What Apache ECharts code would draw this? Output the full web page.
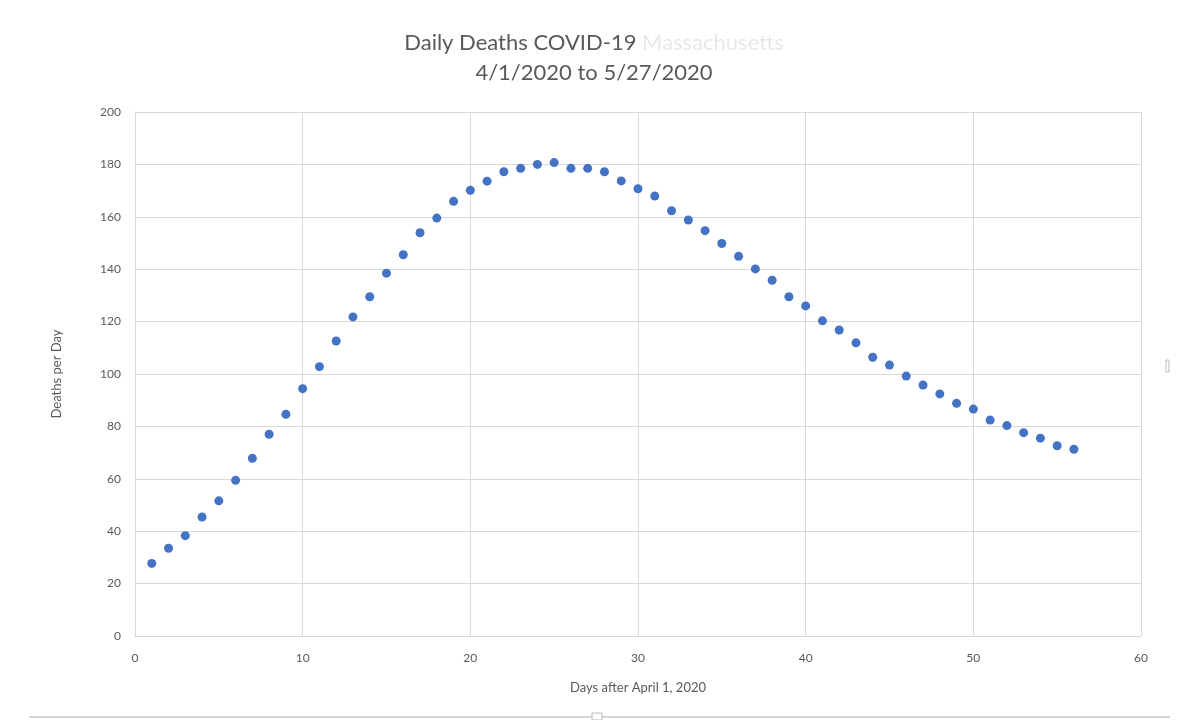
<!DOCTYPE html>
<html>
<head>
<meta charset="utf-8">
<script src="https://cdn.jsdelivr.net/npm/echarts@6/dist/echarts.min.js"></script>
<style>
html,body{margin:0;padding:0;background:#fff;}
#chart{width:1188px;height:720px;}
</style>
</head>
<body>
<div id="chart"></div>
<script>
const titleLine1 = "Daily Deaths COVID-19";
const titleHidden = "Massachusetts";
const titleLine2 = "4/1/2020 to 5/27/2020";
const xAxisName = "Days after April 1, 2020";
const yAxisName = "Deaths per Day";
const days = [1,2,3,4,5,6,7,8,9,10,11,12,13,14,15,16,17,18,19,20,21,22,23,24,25,26,27,28,29,30,31,32,33,34,35,36,37,38,39,40,41,42,43,44,45,46,47,48,49,50,51,52,53,54,55,56];
const deaths = [27.7,33.5,38.3,45.4,51.6,59.4,67.8,77,84.6,94.4,102.8,112.6,121.8,129.5,138.5,145.5,153.9,159.5,165.9,170.1,173.6,177.2,178.5,180,180.7,178.5,178.5,177.2,173.7,170.7,167.9,162.3,158.8,154.7,149.8,144.9,140.1,135.8,129.5,126,120.3,116.8,111.9,106.4,103.4,99.2,95.8,92.4,88.8,86.6,82.4,80.3,77.6,75.5,72.6,71.3];

const chart = echarts.init(document.getElementById('chart'));
const pts = days.map((d, i) => [d, deaths[i]]);
const txt = '#595959';
const font = 'Lato, "Open Sans", sans-serif';
chart.setOption({
  animation: false,
  backgroundColor: '#fff',
  title: {
    text: '{a|' + titleLine1 + ' }{h|' + titleHidden + '}\n{a|' + titleLine2 + '}',
    left: 'center',
    top: 23,
    textStyle: {
      fontWeight: 'normal',
      rich: {
        a: {fontFamily: font, fontSize: 22, fontWeight: 'normal', color: txt, lineHeight: 30},
        h: {fontFamily: font, fontSize: 22, fontWeight: 'normal', color: '#e8e8e8', lineHeight: 30}
      }
    }
  },
  grid: {left: 135, right: 47, top: 112, bottom: 84},
  xAxis: {
    type: 'value', min: 0, max: 60, interval: 10,
    name: xAxisName, nameLocation: 'middle', nameGap: 45,
    nameTextStyle: {fontFamily: font, fontSize: 13, color: txt},
    axisLine: {show: true, lineStyle: {color: '#d9d9d9'}},
    axisTick: {show: false},
    axisLabel: {fontFamily: font, fontSize: 12, color: txt, margin: 16},
    splitLine: {show: true, lineStyle: {color: '#d9d9d9', width: 1}}
  },
  yAxis: {
    type: 'value', min: 0, max: 200, interval: 20,
    name: yAxisName, nameLocation: 'middle', nameGap: 72, nameRotate: 90,
    nameTextStyle: {fontFamily: font, fontSize: 13, color: txt},
    axisLine: {show: true, lineStyle: {color: '#d9d9d9'}},
    axisTick: {show: false},
    axisLabel: {fontFamily: font, fontSize: 12, color: txt, margin: 14},
    splitLine: {show: true, lineStyle: {color: '#d9d9d9', width: 1}}
  },
  series: [{
    type: 'scatter',
    data: pts,
    symbol: 'circle',
    symbolSize: 9,
    itemStyle: {color: '#4472c4', opacity: 1}
  }],
  graphic: [
    {type: 'line', shape: {x1: 29, y1: 717, x2: 1170, y2: 717}, style: {stroke: '#c8c8c8', lineWidth: 1.5}, silent: true},
    {type: 'rect', shape: {x: 592, y: 713, width: 10, height: 7}, style: {fill: '#fff', stroke: '#bbb', lineWidth: 1}, silent: true},
    {type: 'rect', shape: {x: 1166, y: 360, width: 3, height: 12}, style: {fill: '#fff', stroke: '#bbb', lineWidth: 1}, silent: true}
  ]
});
</script>
</body>
</html>
